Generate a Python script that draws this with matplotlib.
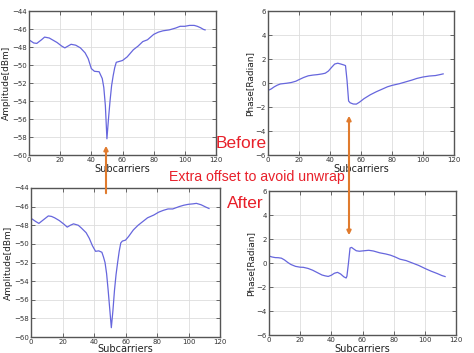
import matplotlib
matplotlib.use("Agg")
import matplotlib.pyplot as plt

# amplitude before offset correction
amp_before_x = [0, 3, 5, 8, 10, 13, 15, 18, 21, 23, 25, 27, 30, 33, 36, 38, 40, 42, 45, 47,
                48, 49, 50, 51, 52, 53, 54, 55, 56, 58, 60, 63, 67, 70, 73, 76, 80, 83, 86,
                90, 94, 97, 100, 103, 106, 108, 110, 112, 113]
amp_before = [-47.2, -47.55, -47.6, -47.2, -46.9, -47.0, -47.2, -47.5, -47.9, -48.1, -47.9,
              -47.7, -47.8, -48.1, -48.65, -49.3, -50.4, -50.7, -50.75, -51.5,
              -52.5, -54.5, -58.2, -56.0, -54.0, -52.3, -51.2, -50.3, -49.7, -49.6, -49.5,
              -49.1, -48.3, -47.9, -47.4, -47.2, -46.6, -46.35, -46.2,
              -46.1, -45.9, -45.7, -45.7, -45.6, -45.6, -45.7, -45.85, -46.05, -46.1]

# amplitude after
amp_after_x = [0, 3, 5, 8, 11, 13, 15, 18, 21, 23, 25, 27, 30, 32, 35, 37, 39, 41, 43, 45,
               46, 47, 48, 49, 50, 51, 52, 53, 54, 55, 56, 57, 58, 60, 62, 65, 68, 71, 74,
               78, 81, 84, 87, 90, 94, 97, 100, 103, 105, 108, 111, 113]
amp_after = [-47.25, -47.6, -47.8, -47.4, -47.0, -47.05, -47.2, -47.5, -47.9, -48.2, -48.0,
             -47.85, -48.0, -48.3, -48.8, -49.4, -50.2, -50.8, -50.75, -50.9,
             -51.4, -52.0, -53.2, -55.0, -57.0, -59.0, -57.2, -55.0, -53.3, -52.0, -50.8,
             -49.9, -49.7, -49.6, -49.2, -48.5, -48.0, -47.6, -47.2,
             -46.9, -46.6, -46.4, -46.25, -46.25, -46.0, -45.85, -45.75, -45.7, -45.65,
             -45.8, -46.05, -46.2]

# phase before
ph_before_x = [0, 2, 4, 6, 8, 12, 15, 18, 20, 23, 26, 29, 32, 35, 37, 39, 41, 43, 45, 47,
               49, 50, 51, 52, 53, 55, 57, 59, 62, 66, 70, 73, 77, 80, 85, 89, 93, 96, 100,
               104, 108, 111, 113]
ph_before = [-0.62, -0.5, -0.32, -0.18, -0.08, -0.02, 0.04, 0.15, 0.28, 0.46, 0.6, 0.66,
             0.7, 0.76, 0.82, 1.0, 1.3, 1.58, 1.65, 1.58, 1.5, 1.45, 0.2, -1.5, -1.65,
             -1.75, -1.76, -1.6, -1.3, -0.98, -0.72, -0.55, -0.32, -0.2, -0.05, 0.1, 0.25,
             0.38, 0.5, 0.58, 0.62, 0.7, 0.76]

# phase after
ph_after_x = [0, 2, 4, 6, 8, 10, 12, 14, 17, 20, 22, 25, 28, 31, 34, 36, 38, 40, 42, 44,
              46, 48, 49.5, 50, 51, 52, 53, 54, 56, 58, 61, 64, 67, 71, 75, 78, 81, 84, 88,
              92, 96, 100, 104, 108, 111, 113]
ph_after = [0.58, 0.5, 0.45, 0.44, 0.4, 0.25, 0.05, -0.12, -0.28, -0.35, -0.36, -0.45,
            -0.6, -0.8, -1.0, -1.07, -1.12, -1.02, -0.85, -0.78, -0.92, -1.15, -1.25, -1.1,
            0.0, 1.25, 1.3, 1.2, 1.02, 0.98, 1.02, 1.06, 1.0, 0.85, 0.75, 0.65, 0.5, 0.32,
            0.2, 0.0, -0.2, -0.45, -0.68, -0.88, -1.05, -1.13]

W, H = 474, 353
fig = plt.figure(figsize=(W / 100, H / 100), dpi=100)


def px_axes(x0, y0, x1, y1):
    return fig.add_axes([x0 / W, 1 - y1 / H, (x1 - x0) / W, (y1 - y0) / H])


def style(ax, ylim, yticks, ylabel, xpad=1):
    ax.set_xlim(0, 120)
    ax.set_xticks(range(0, 121, 20))
    ax.set_ylim(*ylim)
    ax.set_yticks(yticks)
    ax.grid(True, color='#dddddd', lw=0.6)
    ax.set_axisbelow(True)
    ax.tick_params(direction='in', labelsize=5, length=3, width=0.5,
                   colors='#333333', top=True, right=True, pad=1.5)
    for s in ax.spines.values():
        s.set_color('#555555')
        s.set_linewidth(1.0)
    ax.set_xlabel('Subcarriers', fontsize=7, labelpad=xpad, color='#222222')
    ax.set_ylabel(ylabel, fontsize=6.5, labelpad=1, color='#222222')


line_kw = dict(color='#6666dd', lw=0.9)

ax1 = px_axes(29, 11, 216, 155)
ax1.plot(amp_before_x, amp_before, **line_kw)
style(ax1, (-60, -44), range(-60, -43, 2), 'Amplitude[dBm]')

ax2 = px_axes(268, 11, 454, 155)
ax2.plot(ph_before_x, ph_before, **line_kw)
style(ax2, (-6, 6), range(-6, 7, 2), 'Phase[Radian]')

ax3 = px_axes(31, 188, 220, 337)
ax3.plot(amp_after_x, amp_after, **line_kw)
style(ax3, (-60, -44), range(-60, -43, 2), 'Amplitude[dBm]', xpad=-0.5)

ax4 = px_axes(269, 191, 456, 335)
ax4.plot(ph_after_x, ph_after, **line_kw)
style(ax4, (-6, 6), range(-6, 7, 2), 'Phase[Radian]', xpad=0.5)

red = '#e8202a'
fam = ['Liberation Sans', 'DejaVu Sans']
fig.text(241 / W, 1 - 144 / H, 'Before', color=red, fontsize=12.5, family=fam,
         ha='center', va='center')
fig.text(257 / W, 1 - 177 / H, 'Extra offset to avoid unwrap', color=red, fontsize=10.2,
         family=fam, ha='center', va='center')
fig.text(245 / W, 1 - 203 / H, 'After', color=red, fontsize=12.5, family=fam,
         ha='center', va='center')

orange = '#e07b2e'
fig.add_artist(matplotlib.patches.FancyArrowPatch(
    (106 / W, 1 - 196 / H), (106 / W, 1 - 143 / H), transform=fig.transFigure,
    arrowstyle='-|>', mutation_scale=6, color=orange, lw=1.5))
fig.add_artist(matplotlib.patches.FancyArrowPatch(
    (349 / W, 1 - 238 / H), (349 / W, 1 - 113 / H), transform=fig.transFigure,
    arrowstyle='<|-|>', mutation_scale=6, color=orange, lw=1.5))

fig.savefig('out.png', dpi=100)
